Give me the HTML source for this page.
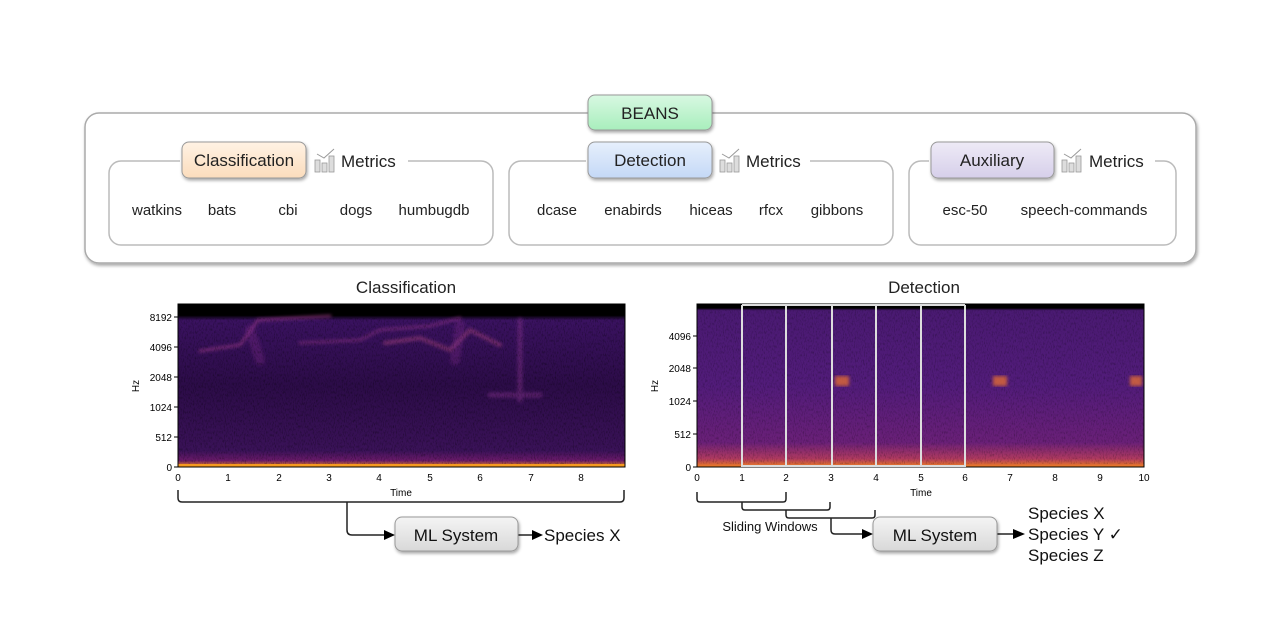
<!DOCTYPE html>
<html><head><meta charset="utf-8"><style>
html,body{margin:0;padding:0;background:#fff;width:1280px;height:640px;overflow:hidden}
svg{display:block}
text{font-family:"Liberation Sans",sans-serif}
</style></head><body>
<svg width="1280" height="640" viewBox="0 0 1280 640" xmlns="http://www.w3.org/2000/svg">
<defs>
<filter id="sh" x="-10%" y="-20%" width="130%" height="150%"><feDropShadow dx="1" dy="2" stdDeviation="1.5" flood-color="#000" flood-opacity="0.35"/></filter>
<filter id="nz" x="0" y="0" width="100%" height="100%"><feTurbulence type="fractalNoise" baseFrequency="0.9 0.35" numOctaves="2" seed="3"/><feColorMatrix type="matrix" values="0 0 0 0 0  0 0 0 0 0  0 0 0 0 0  0 0 0 1.6 -0.75"/></filter>
<filter id="bl"><feGaussianBlur stdDeviation="1.5"/></filter>
<linearGradient id="gG" x1="0" y1="0" x2="0" y2="1"><stop offset="0" stop-color="#d8f8e2"/><stop offset="1" stop-color="#a8eebc"/></linearGradient>
<linearGradient id="gO" x1="0" y1="0" x2="0" y2="1"><stop offset="0" stop-color="#fff2e4"/><stop offset="1" stop-color="#fbdcbc"/></linearGradient>
<linearGradient id="gB" x1="0" y1="0" x2="0" y2="1"><stop offset="0" stop-color="#e6effc"/><stop offset="1" stop-color="#c4d8f6"/></linearGradient>
<linearGradient id="gP" x1="0" y1="0" x2="0" y2="1"><stop offset="0" stop-color="#eeeaf6"/><stop offset="1" stop-color="#d6cfea"/></linearGradient>
<linearGradient id="gM" x1="0" y1="0" x2="0" y2="1"><stop offset="0" stop-color="#f4f4f4"/><stop offset="1" stop-color="#d8d8d8"/></linearGradient>
<linearGradient id="sL" x1="0" y1="0" x2="0" y2="1"><stop offset="0" stop-color="#000"/><stop offset="0.07" stop-color="#000"/><stop offset="0.1" stop-color="#3a1260"/><stop offset="0.5" stop-color="#2c0c48"/><stop offset="0.9" stop-color="#3a1258"/><stop offset="0.96" stop-color="#6a1a6a"/><stop offset="1" stop-color="#f08a20"/></linearGradient>
<linearGradient id="sR" x1="0" y1="0" x2="0" y2="1"><stop offset="0" stop-color="#000"/><stop offset="0.025" stop-color="#000"/><stop offset="0.04" stop-color="#4a1a72"/><stop offset="0.5" stop-color="#521c7a"/><stop offset="0.85" stop-color="#6a2078"/><stop offset="0.95" stop-color="#b03a60"/><stop offset="1" stop-color="#f08020"/></linearGradient>
</defs>

<rect x="85" y="113" width="1111" height="150" rx="14" fill="#fff" stroke="#aaa" stroke-width="1.5" filter="url(#sh)"/>
<rect x="109" y="161" width="384" height="84" rx="12" fill="#fff" stroke="#bbb" stroke-width="1.5"/>
<rect x="509" y="161" width="384" height="84" rx="12" fill="#fff" stroke="#bbb" stroke-width="1.5"/>
<rect x="909" y="161" width="267" height="84" rx="12" fill="#fff" stroke="#bbb" stroke-width="1.5"/>
<rect x="180" y="155" width="228" height="12" fill="#fff"/>
<rect x="586" y="155" width="224" height="12" fill="#fff"/>
<rect x="929" y="155" width="226" height="12" fill="#fff"/>

<rect x="588" y="95" width="124" height="35" rx="7" fill="url(#gG)" stroke="#999" filter="url(#sh)"/>
<text x="650" y="119" font-size="17" text-anchor="middle" fill="#222">BEANS</text>

<rect x="182" y="142" width="124" height="36" rx="7" fill="url(#gO)" stroke="#999" filter="url(#sh)"/>
<text x="244" y="166" font-size="17" text-anchor="middle" fill="#222">Classification</text>
<rect x="588" y="142" width="124" height="36" rx="7" fill="url(#gB)" stroke="#999" filter="url(#sh)"/>
<text x="650" y="166" font-size="17" text-anchor="middle" fill="#222">Detection</text>
<rect x="931" y="142" width="123" height="36" rx="7" fill="url(#gP)" stroke="#999" filter="url(#sh)"/>
<text x="992" y="166" font-size="17" text-anchor="middle" fill="#222">Auxiliary</text>

<g id="mi">
<rect x="315" y="160" width="5" height="12" fill="#ddd" stroke="#999" stroke-width="0.8"/>
<rect x="322" y="163" width="5" height="9" fill="#ddd" stroke="#999" stroke-width="0.8"/>
<rect x="329" y="156" width="5" height="16" fill="#ddd" stroke="#999" stroke-width="0.8"/>
<polyline points="317,154 324,158 334,149" fill="none" stroke="#999" stroke-width="1"/>
</g>
<use href="#mi" x="405"/>
<use href="#mi" x="747"/>
<text x="341" y="167" font-size="17" fill="#222">Metrics</text>
<text x="746" y="167" font-size="17" fill="#222">Metrics</text>
<text x="1089" y="167" font-size="17" fill="#222">Metrics</text>

<g font-size="15" fill="#222" text-anchor="middle">
<text x="157" y="215">watkins</text><text x="222" y="215">bats</text><text x="288" y="215">cbi</text><text x="356" y="215">dogs</text><text x="434" y="215">humbugdb</text>
<text x="557" y="215">dcase</text><text x="633" y="215">enabirds</text><text x="711" y="215">hiceas</text><text x="771" y="215">rfcx</text><text x="837" y="215">gibbons</text>
<text x="965" y="215">esc-50</text><text x="1084" y="215">speech-commands</text>
</g>

<text x="406" y="293" font-size="17" text-anchor="middle" fill="#222">Classification</text>
<text x="924" y="293" font-size="17" text-anchor="middle" fill="#222">Detection</text>

<!-- left spectrogram -->
<rect x="178" y="304" width="447" height="163" fill="url(#sL)"/>
<g stroke-linecap="round" fill="none" filter="url(#bl)">
<path d="M200,351 L240,345 L258,320 L330,316" stroke="#a03a8a" stroke-width="3" opacity="0.6"/>
<path d="M300,343 L360,340 L380,330 L430,326 L460,318" stroke="#9a3a8c" stroke-width="3" opacity="0.5"/>
<path d="M385,343 L420,338 L450,350 L470,330 L500,345" stroke="#b04880" stroke-width="4" opacity="0.5"/>
<path d="M490,395 L540,395 M520,320 L520,400" stroke="#8a3090" stroke-width="5" opacity="0.45"/>
<path d="M250,330 L260,360 M460,325 L455,360" stroke="#7a2a8a" stroke-width="10" opacity="0.35"/>
</g>
<rect x="178" y="318" width="447" height="146" filter="url(#nz)" opacity="0.55"/>
<rect x="178" y="464" width="447" height="3" fill="#f59a20"/>
<rect x="178" y="304" width="447" height="163" fill="none" stroke="#000" stroke-width="1"/>

<!-- right spectrogram -->
<rect x="697" y="304" width="447" height="163" fill="url(#sR)"/>
<rect x="697" y="310" width="447" height="154" filter="url(#nz)" opacity="0.4"/>
<g fill="#e87030" opacity="0.75" filter="url(#bl)">
<rect x="835" y="376" width="14" height="10"/><rect x="993" y="376" width="14" height="10"/><rect x="1130" y="376" width="12" height="10"/>
</g>
<rect x="697" y="304" width="447" height="163" fill="none" stroke="#000" stroke-width="1"/>
<g stroke="#ddd" stroke-width="2">
<line x1="742" y1="305" x2="742" y2="467"/><line x1="786" y1="305" x2="786" y2="467"/><line x1="832" y1="305" x2="832" y2="467"/><line x1="876" y1="305" x2="876" y2="467"/><line x1="921" y1="305" x2="921" y2="467"/><line x1="965" y1="305" x2="965" y2="467"/>
<line x1="742" y1="305" x2="965" y2="305"/><line x1="742" y1="466" x2="965" y2="466"/>
</g>

<g font-size="10" fill="#000" stroke="none">
<g text-anchor="end">
<text x="172" y="321">8192</text><text x="172" y="351">4096</text><text x="172" y="381">2048</text><text x="172" y="411">1024</text><text x="172" y="441">512</text><text x="172" y="471">0</text>
<text x="691" y="340">4096</text><text x="691" y="372">2048</text><text x="691" y="405">1024</text><text x="691" y="438">512</text><text x="691" y="471">0</text>
</g>
<g text-anchor="middle">
<text x="178" y="481">0</text><text x="228" y="481">1</text><text x="279" y="481">2</text><text x="329" y="481">3</text><text x="379" y="481">4</text><text x="430" y="481">5</text><text x="480" y="481">6</text><text x="531" y="481">7</text><text x="581" y="481">8</text>
<text x="697" y="481">0</text><text x="742" y="481">1</text><text x="786" y="481">2</text><text x="831" y="481">3</text><text x="876" y="481">4</text><text x="921" y="481">5</text><text x="965" y="481">6</text><text x="1010" y="481">7</text><text x="1055" y="481">8</text><text x="1100" y="481">9</text><text x="1144" y="481">10</text>
<text x="401" y="496">Time</text><text x="921" y="496">Time</text>
</g>
<text transform="translate(139,386) rotate(-90)" text-anchor="middle">Hz</text>
<text transform="translate(658,386) rotate(-90)" text-anchor="middle">Hz</text>
</g>
<g stroke="#000" stroke-width="1">
<line x1="174" y1="317" x2="178" y2="317"/><line x1="174" y1="347" x2="178" y2="347"/><line x1="174" y1="377" x2="178" y2="377"/><line x1="174" y1="407" x2="178" y2="407"/><line x1="174" y1="437" x2="178" y2="437"/><line x1="174" y1="467" x2="178" y2="467"/>
<line x1="693" y1="336" x2="697" y2="336"/><line x1="693" y1="368" x2="697" y2="368"/><line x1="693" y1="401" x2="697" y2="401"/><line x1="693" y1="434" x2="697" y2="434"/><line x1="693" y1="467" x2="697" y2="467"/>
</g>

<g fill="none" stroke="#222" stroke-width="1.5">
<path d="M178,490 V498 Q178,502 182,502 H620 Q624,502 624,498 V490"/>
<path d="M347,502 V530 Q347,535 352,535 H385"/>
<path d="M518,535 H532"/>
<path d="M697,492 V499 Q697,502 700,502 H783 Q786,502 786,499 V492"/>
<path d="M742,502 V507 Q742,510 745,510 H827 Q830,510 830,507 V502"/>
<path d="M786,510 V515 Q786,518 789,518 H872 Q875,518 875,515 V510"/>
<path d="M831,518 V530 Q831,534 835,534 H862"/>
<path d="M997,534 H1013"/>
</g>
<g fill="#000">
<polygon points="384,530 395,535 384,540"/><polygon points="532,530 543,535 532,540"/>
<polygon points="862,529 873,534 862,539"/><polygon points="1013,529 1025,534 1013,539"/>
</g>
<rect x="395" y="517" width="123" height="34" rx="7" fill="url(#gM)" stroke="#999" filter="url(#sh)"/>
<text x="456" y="541" font-size="17" text-anchor="middle" fill="#111">ML System</text>
<text x="544" y="541" font-size="17" fill="#111">Species X</text>
<rect x="873" y="517" width="124" height="34" rx="7" fill="url(#gM)" stroke="#999" filter="url(#sh)"/>
<text x="935" y="541" font-size="17" text-anchor="middle" fill="#111">ML System</text>
<text x="770" y="531" font-size="13" text-anchor="middle" fill="#111">Sliding Windows</text>
<g font-size="17" fill="#111">
<text x="1028" y="519">Species X</text><text x="1028" y="540">Species Y ✓</text><text x="1028" y="561">Species Z</text>
</g>
</svg>
</body></html>
